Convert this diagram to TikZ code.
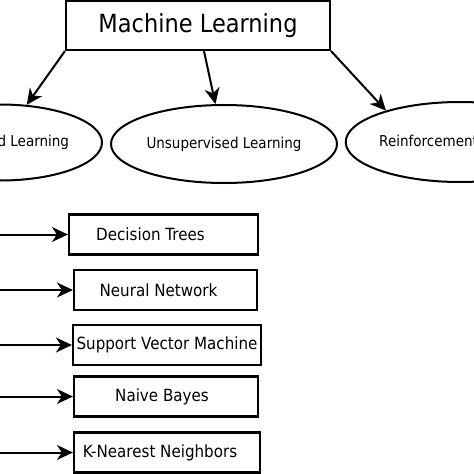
\documentclass[tikz,border=0pt]{standalone}
\usepackage{fontspec}
\setmainfont{DejaVu Sans}[FakeStretch=0.9]
\usetikzlibrary{shapes.geometric,arrows.meta}

\begin{document}
\begin{tikzpicture}[x=1pt, y=-1pt]
  % the view is a crop: the page is fixed, the outer shapes run past it
  \useasboundingbox (0,0) rectangle (474,474);
  \tikzset{
    rootbox/.style={draw, line width=2.2pt, inner sep=0pt,
                    minimum width=264pt, minimum height=49pt,
                    font=\fontsize{25}{30}\selectfont},
    kind/.style={draw, ellipse, line width=2pt, inner sep=0pt,
                 font=\fontsize{15}{18}\selectfont},
    algo/.style={draw, line width=2.2pt, inner sep=0pt,
                 minimum height=40pt, font=\fontsize{16.8}{20}\selectfont},
    link/.style={line width=2pt,
                 -{Stealth[length=16pt, width=15pt, inset=5pt]}}}
  \def\pull#1{\hspace*{#1pt}}   % the box texts sit a little left of centre

  % ========== the root and its three kinds ==========
  \node[rootbox] (ml) at (198,25.5) {Machine Learning};
  \node[kind, minimum width=204pt, minimum height=76pt] (sup)   at (0,142.5) {Supervised Learning};
  \node[kind, minimum width=226pt, minimum height=78pt] (unsup) at (224,144) {Unsupervised Learning};
  \node[kind, minimum width=222pt, minimum height=80pt] (reinf) at (460,142) {Reinforcement Learning};

  \draw[link] (ml.south west) -- (sup);
  \draw[link] ([xshift=6pt]ml.south) -- (unsup);
  \draw[link] (ml.south east) -- (reinf.157);

  % ========== the algorithms, fed from off the left edge ==========
  \node[algo, minimum width=189pt] (dt)  at (163.5,234.5) {Decision Trees\pull{26}};
  \node[algo, minimum width=183pt] (nn)  at (165.5,290)   {Neural Network\pull{14}};
  \node[algo, minimum width=188pt] (svm) at (167,345)     {Support Vector Machine};
  \node[algo, minimum width=184pt] (nb)  at (166,396.5)   {Naive Bayes\pull{8}};
  \node[algo, minimum width=186pt] (knn) at (167,452.5)   {K-Nearest Neighbors\pull{14}};

  \coordinate (dtin)  at (-8,234.5);
  \coordinate (nnin)  at (-8,290);
  \coordinate (svmin) at (-8,345);
  \coordinate (nbin)  at (-8,396.5);
  \coordinate (knnin) at (-8,452.5);

  \draw[link] (dtin)  -- (dt);
  \draw[link] (nnin)  -- (nn);
  \draw[link] (svmin) -- (svm);
  \draw[link] (nbin)  -- (nb);
  \draw[link] (knnin) -- (knn);
\end{tikzpicture}
\end{document}
